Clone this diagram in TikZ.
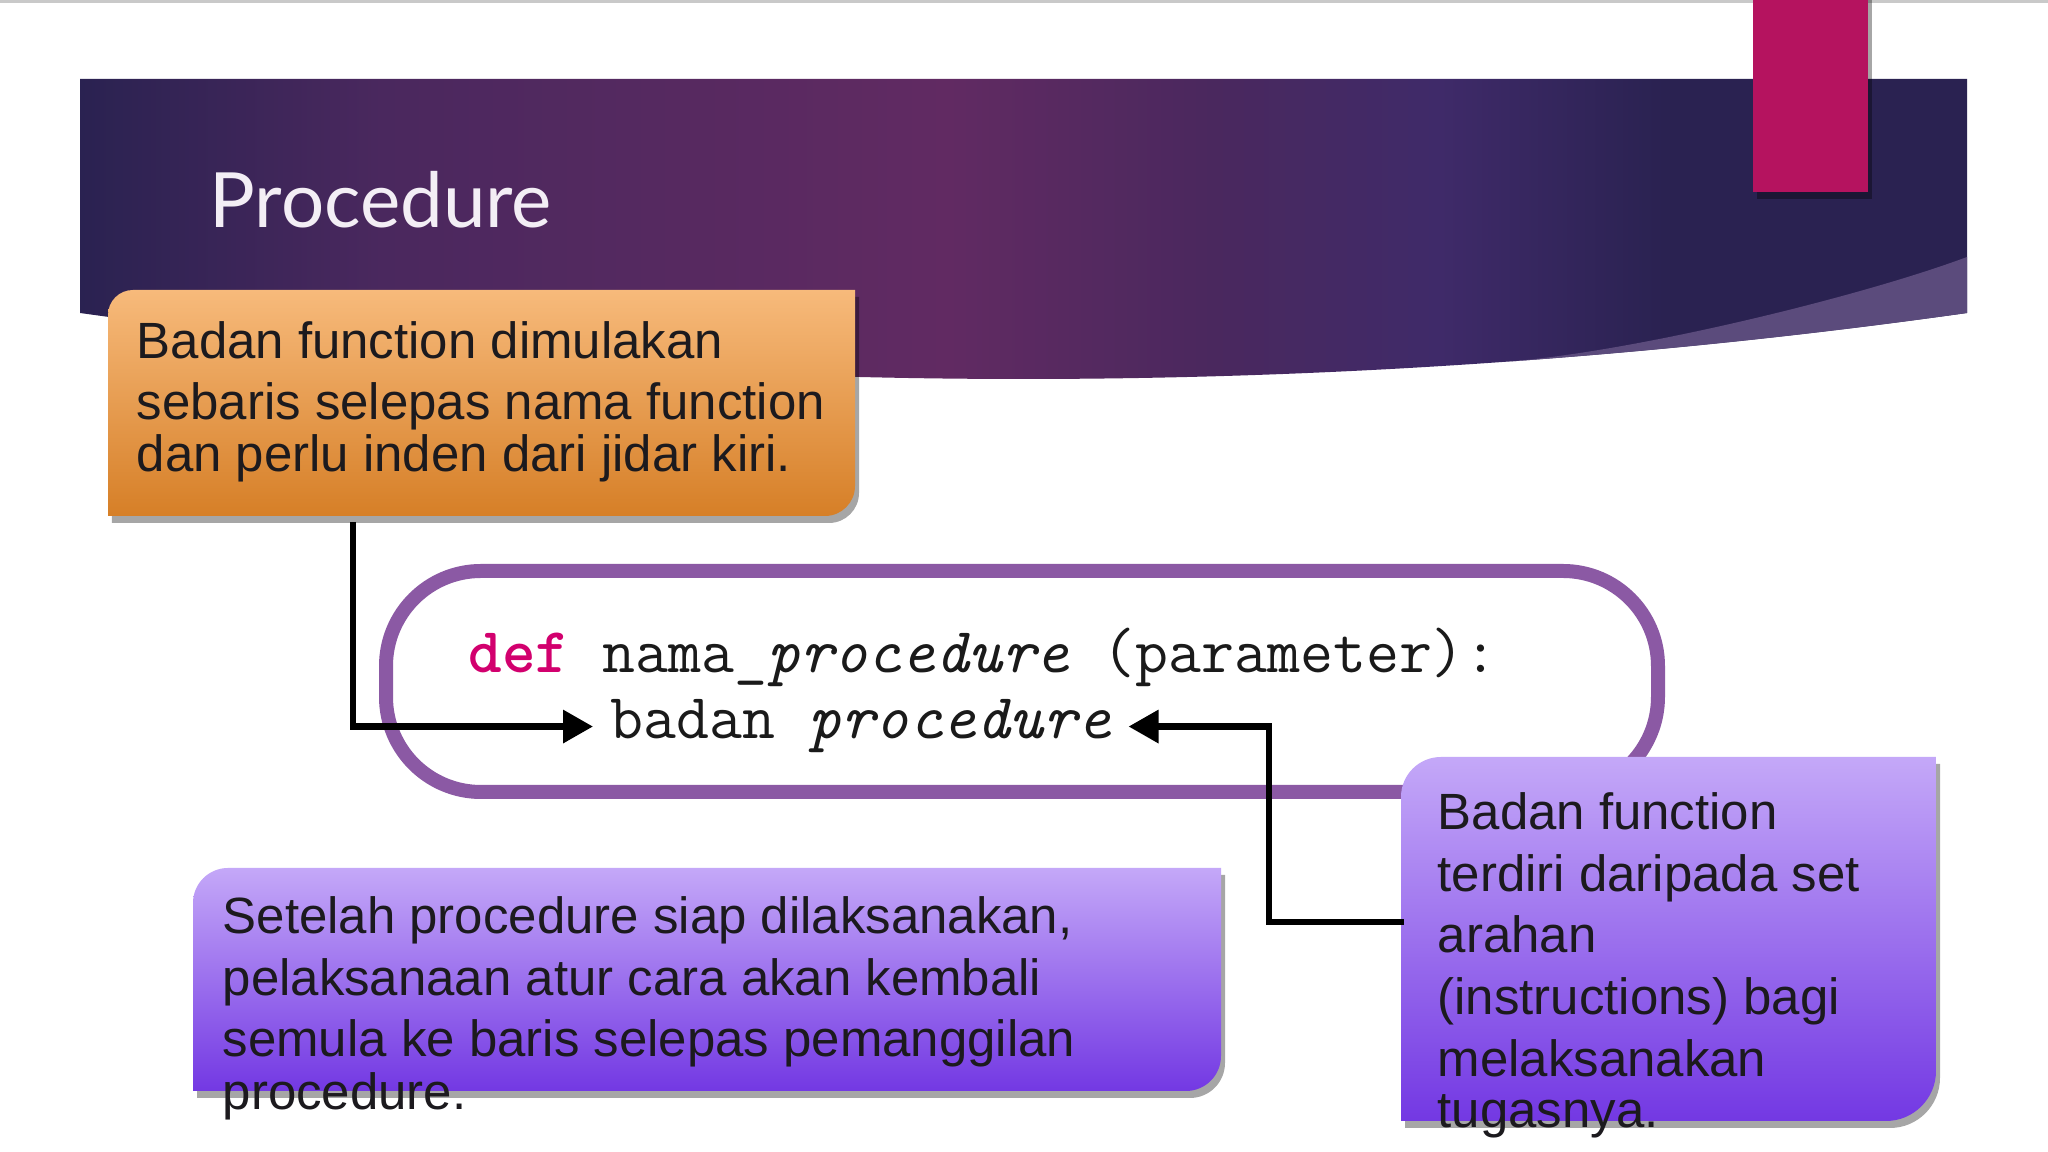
\documentclass[tikz,border=0pt]{standalone}
\usepackage{fontspec}
\setmainfont{Liberation Sans}
\newfontfamily\titlefont{Lato}
\usetikzlibrary{arrows.meta,positioning,calc,shadows}
\definecolor{ink}{HTML}{1C1A1E}
\definecolor{rulegray}{HTML}{C9C9C9}
\definecolor{bannerdark}{HTML}{2A2251}
\definecolor{bannerplum}{HTML}{4A285E}
\definecolor{bannermag}{HTML}{612A62}
\definecolor{bannerblue}{HTML}{3F2A69}
\definecolor{bannerwedge}{HTML}{5B4B7C}
\definecolor{accentpink}{HTML}{B5135F}
\definecolor{titletext}{HTML}{F3EEF5}
\definecolor{orangetop}{HTML}{F7BA7B}
\definecolor{orangebot}{HTML}{D67F27}
\definecolor{violettop}{HTML}{C4A8F8}
\definecolor{violetbot}{HTML}{7338E3}
\definecolor{codeframe}{HTML}{8B59A4}
\definecolor{keyword}{HTML}{D2006E}
\definecolor{codeink}{HTML}{1A1A1A}
\pgfdeclarehorizontalshading{bannershade}{100bp}{color(0bp)=(bannerdark); color(25bp)=(bannerdark);
  color(33bp)=(bannerplum); color(48bp)=(bannermag); color(55bp)=(bannerplum);
  color(61bp)=(bannerblue); color(67bp)=(bannerdark); color(100bp)=(bannerdark)}

\begin{document}
\begin{tikzpicture}[
  font=\fontsize{14.5}{17.6}\selectfont,
  softshadow/.style={drop shadow={shadow xshift=0.04cm, shadow yshift=-0.07cm,
    opacity=0.35, fill=black}},
  notebox/.style={inner sep=0pt, outer sep=0pt},
  notetext/.style={anchor=base west, align=left, inner sep=0pt, text=ink},
  orangefill/.style={top color=orangetop, bottom color=orangebot, softshadow},
  violetfill/.style={top color=violettop, bottom color=violetbot, softshadow},
  codeline/.style={anchor=base west, inner sep=0pt, text=codeink,
    font=\fontsize{18.2}{22}\selectfont\ttfamily},
  pointer/.style={-{Triangle[length=0.3cm,width=0.32cm]}, line width=0.065cm, draw=black}
]
\useasboundingbox (0,0) rectangle (20.48,11.52);
\fill[white] (0,0) rectangle (20.48,11.52);

% banner
\shade[shading=bannershade] (0.80,10.73) -- (19.67,10.73) -- (19.67,8.39)
  .. controls (13.38,7.51) and (7.09,7.51) .. (0.80,8.39) -- cycle;
\fill[bannerwedge] (19.67,8.95) .. controls (18.6,8.55) and (16.3,7.99) .. (15.03,7.90)
  .. controls (16.58,8.01) and (18.12,8.17) .. (19.67,8.39) -- cycle;
\draw[rulegray, line width=0.03cm] (0,11.505) -- (20.48,11.505);
\fill[accentpink, softshadow] (17.53,9.60) rectangle (18.68,11.60);
\node[font=\titlefont\fontsize{21.7}{26}\selectfont, text=titletext, anchor=base west,
  inner sep=0pt] (title) at (2.09,9.24) {Procedure};

% code
\node[draw=codeframe, line width=0.14cm, fill=white, rounded corners=0.95cm,
  minimum width=12.72cm, minimum height=2.21cm, softshadow] (codebox) at (10.22,4.705) {};
\node[codeline] (codehead) at (4.68,4.79)
  {\textcolor{keyword}{\bfseries def} nama\_\textit{procedure} (parameter):};
\node[codeline, inner xsep=0.17cm] (codebody) at (5.93,4.13) {badan \textit{procedure}};

% notes (text nodes sit on their last baseline)
\node[notebox, minimum width=7.47cm, minimum height=2.26cm] (startnote) at (4.815,7.49) {};
\shade[orangefill] (startnote.south west) -- ([yshift=-0.25cm]startnote.north west)
  arc[start angle=180, end angle=90, radius=0.25cm] -- (startnote.north east)
  -- ([yshift=0.3cm]startnote.south east) arc[start angle=0, end angle=-90, radius=0.3cm] -- cycle;
\node[notetext] (starttext) at (1.36,6.80)
  {Badan function dimulakan\\ sebaris selepas nama function\\[-2.8pt] dan perlu inden dari jidar kiri.};

\node[notebox, minimum width=10.28cm, minimum height=2.23cm] (returnnote) at (7.07,1.725) {};
\shade[violetfill] (returnnote.south west) -- ([yshift=-0.35cm]returnnote.north west)
  arc[start angle=180, end angle=90, radius=0.35cm] -- (returnnote.north east)
  -- ([yshift=0.35cm]returnnote.south east) arc[start angle=0, end angle=-90, radius=0.35cm] -- cycle;
\node[notetext] (returntext) at (2.22,0.42)
  {Setelah procedure siap dilaksanakan,\\ pelaksanaan atur cara akan kembali\\
   semula ke baris selepas pemanggilan\\[-2.5pt] procedure.};

\node[notebox, minimum width=5.35cm, minimum height=3.64cm] (bodynote) at (16.685,2.13) {};
\shade[violetfill] (bodynote.south west) -- ([yshift=-0.4cm]bodynote.north west)
  arc[start angle=180, end angle=90, radius=0.4cm] -- (bodynote.north east)
  -- ([yshift=0.5cm]bodynote.south east) arc[start angle=0, end angle=-90, radius=0.5cm] -- cycle;
\node[notetext] (bodytext) at (14.37,0.24)
  {Badan function\\ terdiri daripada set\\ arahan\\ (instructions) bagi\\
   melaksanakan\\[-3pt] tugasnya.};

% pointers
\coordinate (startdrop) at ($(startnote.south west)+(2.45,-0.06)$);
\draw[pointer] (startdrop) |- (codebody.west);
\coordinate (bodyjoin) at ($(bodynote.north west)+(0.03,-1.65)$);
\draw[pointer] (bodyjoin) -- ++(-1.35,0) |- (codebody.east);
\end{tikzpicture}
\end{document}
